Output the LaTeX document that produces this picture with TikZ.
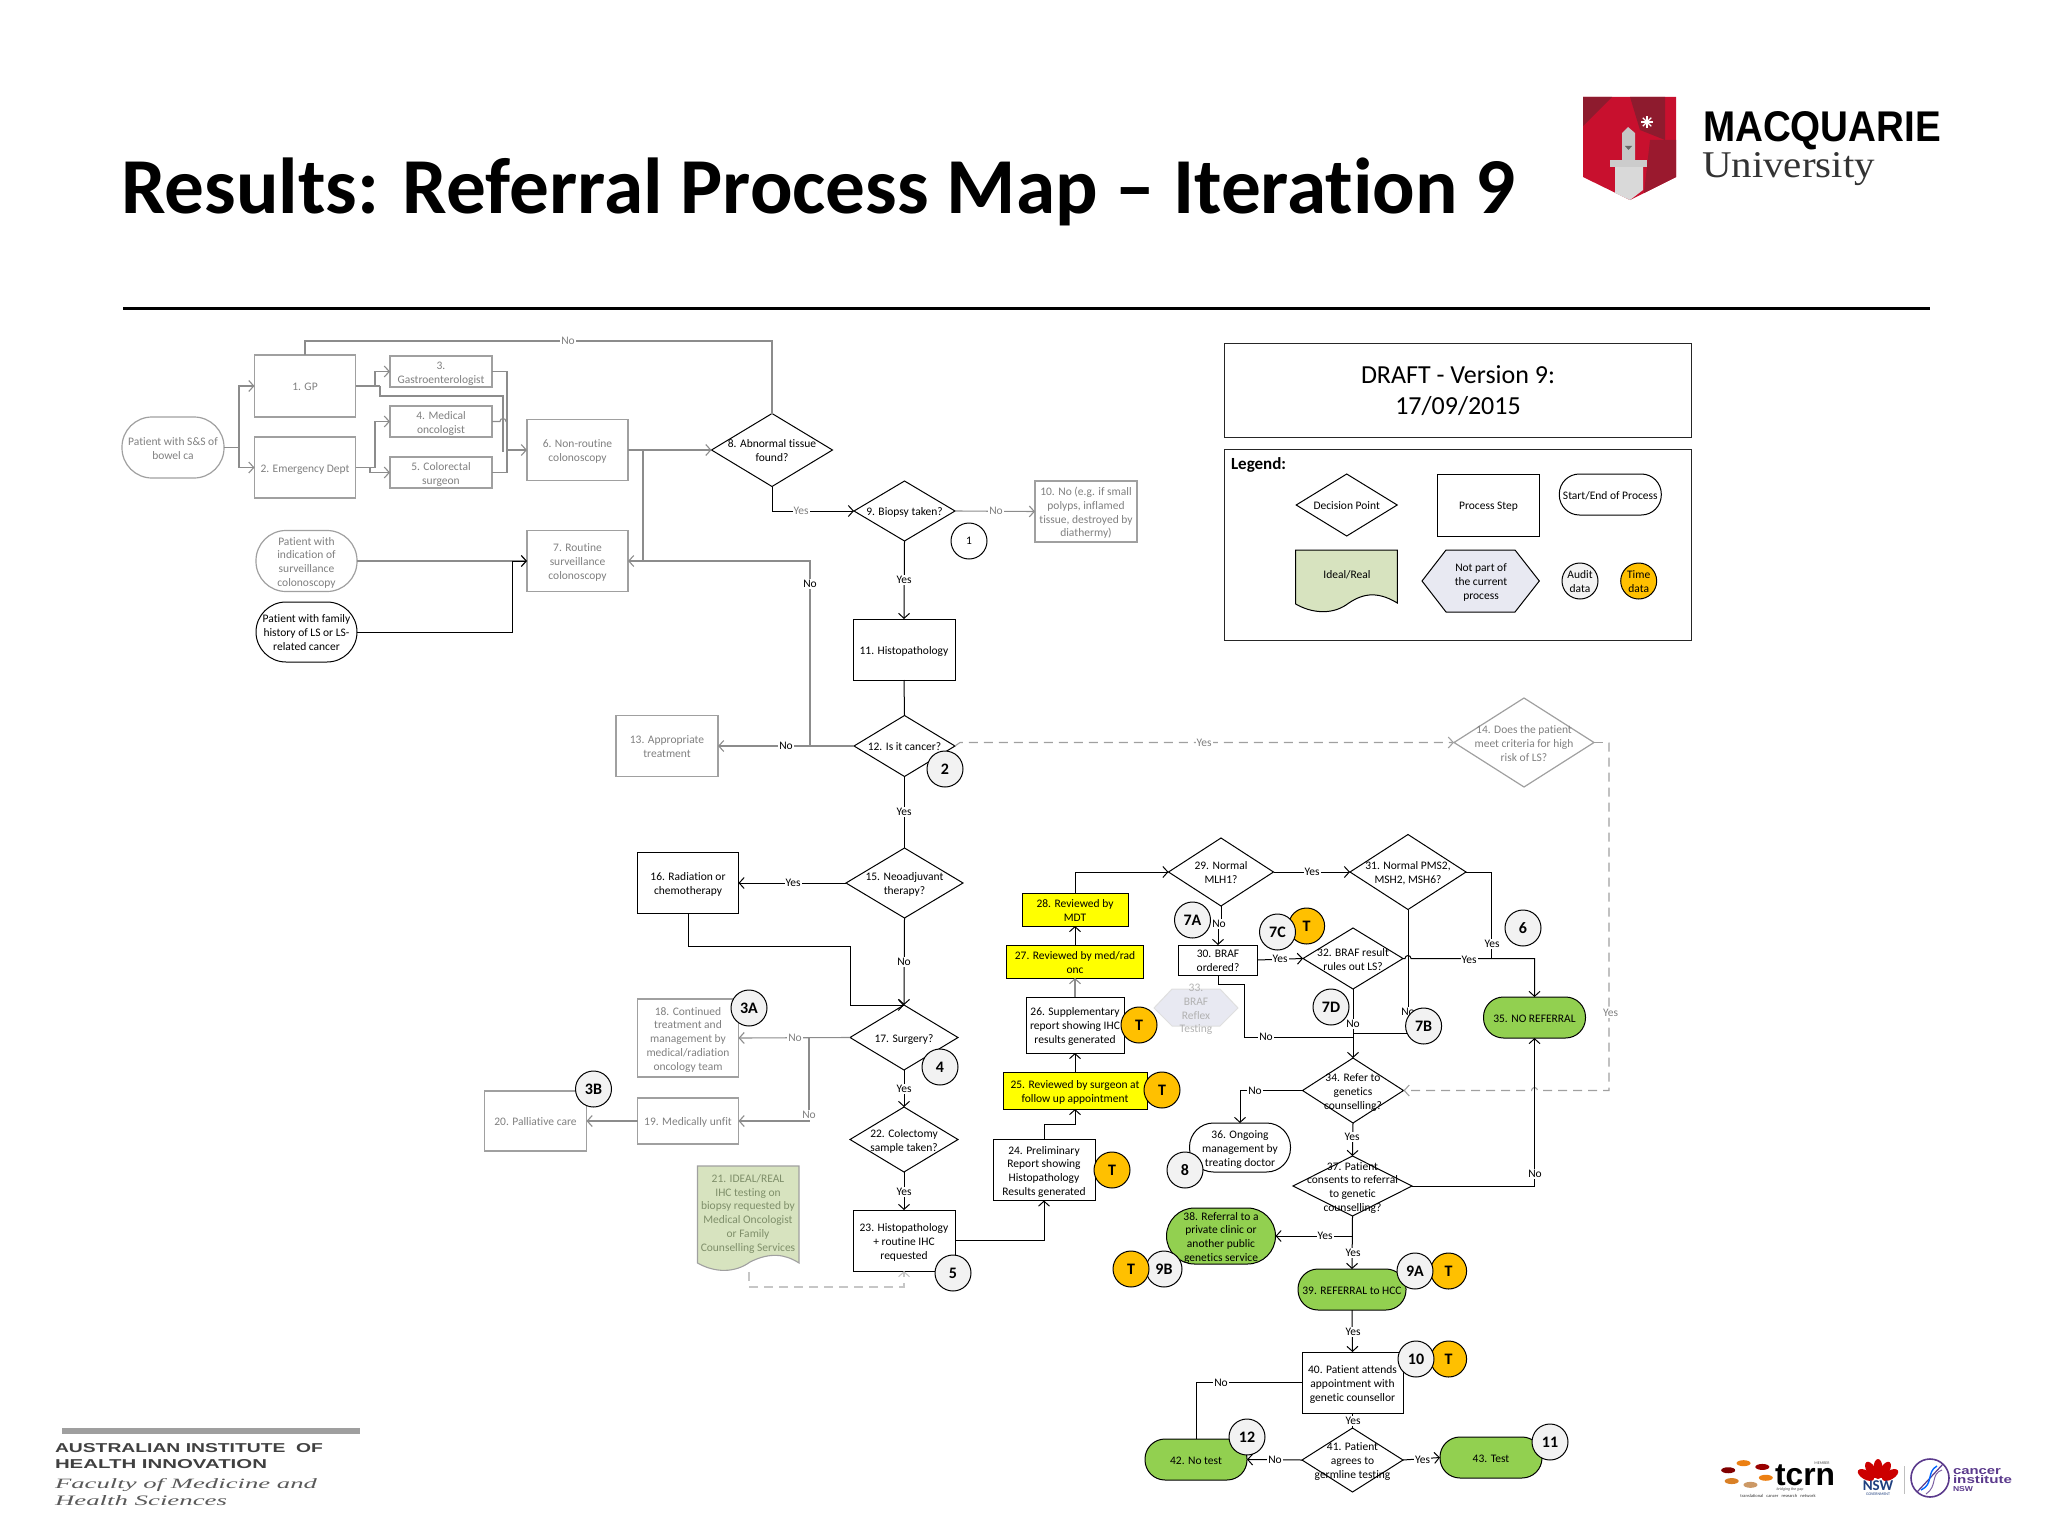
\documentclass[tikz,border=0pt]{standalone}
\usepackage{fontspec}
\setmainfont{Carlito}[Ligatures={TeX,NoCommon}]
\newfontfamily\lsans{Liberation Sans}
\newfontfamily\lserif{Liberation Serif}
\usetikzlibrary{shapes.geometric,arrows.meta}
\definecolor{gbord}{HTML}{A0A0A0}
\definecolor{gtext}{HTML}{808080}
\definecolor{gline}{HTML}{8C8C8C}
\definecolor{dashc}{HTML}{A0A0A0}
\definecolor{yel}{HTML}{FFFF00}
\definecolor{grn}{HTML}{92D050}
\definecolor{amber}{HTML}{FFC000}
\definecolor{badge}{HTML}{F2F2F2}
\definecolor{sage}{HTML}{D7E3BF}
\definecolor{sagetext}{HTML}{7F8F6A}
\definecolor{hexfill}{HTML}{E8E9F2}
\definecolor{mqred}{HTML}{C8102E}
\definecolor{mqdark}{HTML}{8E1B2E}
\definecolor{purp}{HTML}{5B3A8C}
\definecolor{nswblue}{HTML}{1F3F7F}
\newcommand{\lab}{\fontsize{11.5}{13.8}\selectfont}
\newcommand{\zb}[1]{\smash{\raisebox{-5pt}{\makebox[0pt]{\begin{tabular}[c]{@{}c@{}}#1\end{tabular}}}}}
\tikzset{
  every node/.style={inner sep=0pt,outer sep=0pt,font=\lab},
  pbox/.style 2 args={rectangle,draw=black,line width=1pt,fill=white,minimum width=#1pt,minimum height=#2pt},
  dec/.style 2 args={diamond,draw=black,line width=1pt,fill=white,minimum width=#1pt,minimum height=#2pt},
  term/.style n args={3}{rectangle,rounded corners=#3pt,draw=black,line width=1pt,fill=white,minimum width=#1pt,minimum height=#2pt},
  offp/.style={draw=gbord,text=gtext,line width=1.2pt},
  yelb/.style={fill=yel},
  grnb/.style={fill=grn},
  conn/.style={draw=black,line width=1pt},
  arr/.style={conn,-{Straight Barb[length=5pt,width=11pt]}},
  gconn/.style={draw=gline,line width=1.1pt},
  garr/.style={gconn,-{Straight Barb[length=5pt,width=11pt]}},
  dconn/.style={draw=dashc,line width=1.1pt,dash pattern=on 9pt off 6pt},
  darr/.style={dconn,-{Straight Barb[length=5pt,width=11pt]}},
  yn/.style={fill=white,inner sep=1pt,font=\lab},
  gyn/.style={yn,text=gtext},
  audit/.style={circle,draw=black,line width=1pt,fill=badge,minimum size=36pt,font=\fontsize{16}{16}\selectfont\bfseries},
  timeb/.style={audit,fill=amber},
}
\begin{document}
\begin{tikzpicture}[x=1pt,y=-1pt]
\useasboundingbox (0,0) rectangle (2048,1536);
% title
\node[anchor=base west,font=\fontsize{79.3}{84}\selectfont\bfseries] (title) at (121,213) {Results: Referral Process Map – Iteration 9};
\draw[black,line width=2.5pt] (123,308.5) -- (1930,308.5);

% Macquarie logo
\fill[mqred] (1583,97) -- (1676,97) -- (1676,177) -- (1630,200) -- (1583,177) -- cycle;
\fill[mqdark] (1583,97) -- (1612,97) -- (1583,126) -- cycle;
\fill[mqdark] (1630,97) -- (1665,97) -- (1665,140) -- (1640,130) -- cycle;
\fill[mqdark!80!mqred] (1650,140) -- (1676,140) -- (1676,177) -- (1644,193) -- cycle;
\fill[gray!30] (1615,167) -- (1643,167) -- (1643,190) -- (1630,200) -- (1615,193) -- cycle;
\fill[gray!40] (1610,160) -- (1647,160) -- (1647,167) -- (1610,167) -- cycle;
\fill[gray!45] (1622,160) -- (1622,133) -- (1628,127) -- (1635,133) -- (1635,160) -- cycle;
\fill[black!60] (1625,146) -- (1632,146) -- (1628.5,150) -- cycle;
\fill[white] (1647,122) circle (2pt);
\foreach \a in {0,45,...,315}{\draw[white,line width=1.2pt] (1647,122) -- ++(\a:6);}
\node[anchor=base west] (mq) at (1703,142) {\resizebox{238pt}{30pt}{\lsans\bfseries MACQUARIE}};
\node[anchor=base west,text=black!80] (uni) at (1702,177) {\resizebox{173pt}{25pt}{\lserif University}};

% bottom-left logo
\fill[gray!75] (62,1428) rectangle (360,1434);
\node[anchor=west,text=black!75] (a1) at (55,1448) {\resizebox{268pt}{9pt}{\lsans\bfseries AUSTRALIAN INSTITUTE\ \ OF}};
\node[anchor=west,text=black!75] (a2) at (55,1464) {\resizebox{212pt}{9pt}{\lsans\bfseries HEALTH INNOVATION}};
\node[anchor=base west,text=black!65] (a3) at (55,1488) {\resizebox{262pt}{10pt}{\lserif\itshape Faculty of Medicine and}};
\node[anchor=base west,text=black!65] (a4) at (55,1505.5) {\resizebox{172pt}{10pt}{\lserif\itshape Health Sciences}};

% tcrn logo
\foreach \a/\c in {20/orange!70!brown,80/brown!80,140/brown!60!orange,200/red!50!black,260/orange!70!brown,320/red!60!black}{
  \fill[\c] (1747,1474) ++(\a:20 and 11) ellipse[x radius=7,y radius=3];
}
\node[anchor=base west] (tc) at (1775,1485) {\resizebox{60pt}{!}{\lsans\bfseries tcrn}};
\node[text=black!70,font=\fontsize{4}{4}\selectfont] (mem) at (1822,1463) {MEMBER};
\node[text=black!70,font=\fontsize{4}{4}\selectfont\itshape] (gap) at (1790,1489) {bridging the gap};
\node[text=black!80,font=\fontsize{4.5}{5}\selectfont] (net) at (1778,1496) {translational\ \ \ cancer\ \ \ research\ \ \ network};
% NSW logo
\foreach \a in {-60,-30,0,30,60}{\fill[red!80!black,rotate around={\a:(1878,1482)}] (1878,1468) ellipse[x radius=4.5,y radius=9];}
\fill[red!80!black] (1878,1474) circle (5);
\node[text=nswblue,font=\fontsize{15}{15}\selectfont\bfseries] (nsw) at (1878,1486) {NSW};
\node[text=nswblue,font=\fontsize{4}{4}\selectfont] (gov) at (1878,1494) {GOVERNMENT};
\draw[gray!50,line width=.6pt] (1904,1466) -- (1904,1494);
\draw[purp,line width=1.6pt] (1930,1478) circle (19);
\draw[purp,line width=1.2pt] (1917,1492) -- (1943,1464);
\draw[blue!60!cyan,line width=1.4pt] (1921,1490) .. controls (1934,1484) and (1926,1472) .. (1937,1466);
\draw[purp!80,line width=1pt] (1926,1494) .. controls (1938,1486) and (1930,1474) .. (1942,1470);
\node[anchor=base west,text=purp] (ci1) at (1953,1474) {\resizebox{48pt}{6pt}{\lsans\bfseries cancer}};
\node[anchor=base west,text=purp] (ci2) at (1953,1483.5) {\resizebox{59pt}{8pt}{\lsans\bfseries institute}};
\node[anchor=base west,text=purp] (ci3) at (1953,1491) {\resizebox{20pt}{5pt}{\lsans\bfseries NSW}};

% draft and legend boxes
\node[pbox={467}{94},draw=black!85] (draftb) at (1458.2,390) {};
\node[font=\fontsize{26}{31}\selectfont,align=center] (draftt) at (1458,391) {DRAFT - Version 9:\\17/09/2015};
\node[pbox={467}{191},draw=black!85] (legb) at (1458.2,544.5) {};
\node[anchor=west,font=\fontsize{17}{18}\selectfont\bfseries] (legt) at (1231,465) {Legend:};
\node[dec={101}{62}] (ldec) at (1346.7,505) {\zb{Decision Point}};
\node[pbox={101.6}{62}] (lstep) at (1488.5,505) {\zb{Process Step}};
\node[term={102}{41}{20}] (lterm) at (1610.3,494.5) {\zb{Start/End of Process}};
\draw[black,line width=1pt,fill=sage] (1295.7,550) -- (1397.3,550) -- (1397.3,603) .. controls (1376,590) and (1361,594) .. (1346,605) .. controls (1331,615) and (1311,613) .. (1295.7,604) -- cycle;
\node (lideal) at (1347,573.5) {\zb{Ideal/Real}};
\draw[black,line width=1pt,fill=hexfill] (1422,581) -- (1446,550) -- (1515,550) -- (1539.3,581) -- (1515,612) -- (1446,612) -- cycle;
\node (lhex) at (1481,581) {\zb{Not part of\\the current\\process}};
\node[circle,draw=black,line width=1pt,fill=badge,minimum size=36pt] (laud) at (1580,581) {\zb{Audit\\data}};
\node[circle,draw=black,line width=1pt,fill=amber,minimum size=36pt] (ltim) at (1638.7,581) {\zb{Time\\data}};

% nodes - left part
\node[term={102}{61}{30},offp] (start) at (173,447.5) {\zb{Patient with S\&S of\\bowel ca}};
\node[pbox={101}{62},offp] (gp) at (305,386) {\zb{1. GP}};
\node[pbox={101}{61},offp] (ed) at (305,467.5) {\zb{2. Emergency Dept}};
\node[pbox={102}{31},offp] (n3) at (441,371.5) {\zb{3.\\Gastroenterologist}};
\node[pbox={102}{31},offp] (n4) at (441,421.5) {\zb{4. Medical\\oncologist}};
\node[pbox={102}{31},offp] (n5) at (441,472.5) {\zb{5. Colorectal\\surgeon}};
\node[pbox={101}{61},offp] (n6) at (577.5,450) {\zb{6. Non-routine\\colonoscopy}};
\node[pbox={101}{61},offp] (n7) at (577.5,561) {\zb{7. Routine\\surveillance\\colonoscopy}};
\node[term={101}{61}{30},offp] (indic) at (306.5,561) {\zb{Patient with\\indication of\\surveillance\\colonoscopy}};
\node[term={101}{60}{30}] (fam) at (306.5,632) {\zb{Patient with family\\history of LS or LS-\\related cancer}};
\node[dec={121}{73}] (n8) at (772,450) {\zb{8. Abnormal tissue\\found?}};
\node[dec={101}{60}] (n9) at (904.5,511) {\zb{9. Biopsy taken?}};
\node[pbox={102}{61},offp] (n10) at (1086,511.5) {\zb{10. No (e.g. if small\\polyps, inflamed\\tissue, destroyed by\\diathermy)}};
\node[pbox={102}{61}] (n11) at (904,649.5) {\zb{11. Histopathology}};
\node[dec={101}{61}] (n12) at (904.5,746) {\zb{12. Is it cancer?}};
\node[pbox={102}{61},offp] (n13) at (667,746) {\zb{13. Appropriate\\treatment}};
\node[dec={140}{89},offp,fill=none] (n14) at (1524,742.5) {\zb{14. Does the patient\\meet criteria for high\\risk of LS?}};
\node[dec={117}{70}] (n15) at (904.5,883) {\zb{15. Neoadjuvant\\therapy?}};
\node[pbox={101}{61}] (n16) at (688,883) {\zb{16. Radiation or\\chemotherapy}};
\node[dec={108}{65}] (n17) at (904,1037.5) {\zb{17. Surgery?}};
\node[pbox={101}{78},offp] (n18) at (688,1038) {\zb{18. Continued\\treatment and\\management by\\medical/radiation\\oncology team}};
\node[pbox={101}{46},offp] (n19) at (688,1121) {\zb{19. Medically unfit}};
\node[pbox={102}{60},offp] (n20) at (535.5,1121) {\zb{20. Palliative care}};
\node[dec={108}{65}] (n22) at (904,1139.5) {\zb{22. Colectomy\\sample taken?}};
\node[pbox={102}{61}] (n23) at (904,1240.5) {\zb{23. Histopathology\\+ routine IHC\\requested}};
\draw[gbord,line width=1.1pt,fill=sage] (697.5,1166) -- (799,1166) -- (799,1263) .. controls (785,1254) and (770,1252) .. (750,1262) .. controls (735,1273) and (715,1273) .. (697.5,1263) -- cycle;
\node[text=sagetext] (n21) at (748,1212) {\zb{21. IDEAL/REAL\\IHC testing on\\biopsy requested by\\Medical Oncologist\\or Family\\Counselling Services}};
\coordinate (d21b) at (749,1272);
\node[pbox={102}{61}] (n24) at (1044,1170) {\zb{24. Preliminary\\Report showing\\Histopathology\\Results generated}};
\node[pbox={144}{37},yelb] (n25) at (1075,1090.5) {\zb{25. Reviewed by surgeon at\\follow up appointment}};
\node[pbox={98}{56}] (n26) at (1075,1025) {\zb{26. Supplementary\\report showing IHC\\results generated}};
\node[pbox={137.5}{33},yelb] (n27) at (1075,961.5) {\zb{27. Reviewed by med/rad\\onc}};
\node[pbox={106}{33},yelb] (n28) at (1075,909.5) {\zb{28. Reviewed by\\MDT}};
\node[dec={105}{68}] (n29) at (1221,872) {\zb{29. Normal\\MLH1?}};
\node[pbox={78.5}{30}] (n30) at (1218,960) {\zb{30. BRAF\\ordered?}};
\node[dec={116}{75}] (n31) at (1408,872) {\zb{31. Normal PMS2,\\MSH2, MSH6?}};
\node[dec={100}{61}] (n32) at (1353,958.5) {\zb{32. BRAF result\\rules out LS?}};
\draw[gray!25,line width=1pt,fill=hexfill] (1154,1008) -- (1172,989) -- (1220,989) -- (1238,1008) -- (1220,1026) -- (1172,1026) -- cycle;
\node[text=gray!60] (n33) at (1196,1007.5) {\zb{33.\\BRAF\\Reflex\\Testing}};
\node[dec={101}{65}] (n34) at (1353,1090.5) {\zb{34. Refer to\\genetics\\counselling?}};
\node[term={102}{41}{20},grnb] (n35) at (1534.5,1017.5) {\zb{35. NO REFERRAL}};
\node[term={101}{49}{24}] (n36) at (1240,1147.5) {\zb{36. Ongoing\\management by\\treating doctor}};
\node[dec={119}{60},fill=none] (n37) at (1352.5,1186) {\zb{37. Patient\\consents to referral\\to genetic\\counselling?}};
\node[term={109}{56}{28},grnb] (n38) at (1221,1236) {\zb{38. Referral to a\\private clinic or\\another public\\genetics service}};
\node[term={108}{41}{20},grnb] (n39) at (1352,1289.5) {\zb{39. REFERRAL to HCC}};
\node[pbox={101}{61}] (n40) at (1352.5,1382.5) {\zb{40. Patient attends\\appointment with\\genetic counsellor}};
\node[dec={101}{64},fill=none] (n41) at (1352.5,1460) {\zb{41. Patient\\agrees to\\germline testing}};
\node[term={102}{41}{20},grnb] (n42) at (1196,1459.5) {\zb{42. No test}};
\node[term={102}{41}{20},grnb] (n43) at (1491,1457.5) {\zb{43. Test}};

% junctions
\coordinate (j1) at (239,447.5);
\coordinate (j2) at (375,386);
\coordinate (j3) at (380,386);
\coordinate (j3b) at (380,396);
\coordinate (j3c) at (503,396);
\coordinate (j3d) at (503,452);
\coordinate (j4) at (507,450);
\coordinate (h4a) at (500,421.5);
\coordinate (j4b) at (507,421.5);
\coordinate (j5) at (375,467.5);
\coordinate (j6) at (370,467.5);
\coordinate (j7) at (643,450);
\coordinate (j7b) at (643,561);
\coordinate (j8) at (810,746);
\coordinate (j9) at (772,341);
\coordinate (j10) at (512,561);
\coordinate (j15a) at (688,946);
\coordinate (j15b) at (850,946);
\coordinate (j15c) at (850,1005);
\coordinate (j11) at (809,1037.5);
\coordinate (j21) at (749,1287);
\coordinate (j24) at (1044,1124);
\coordinate (j29) at (1221,920);
\coordinate (j30a) at (1218,984);
\coordinate (j30b) at (1244,984);
\coordinate (j30c) at (1244,1037);
\coordinate (j30d) at (1353,1037);
\coordinate (j31a) at (1491,958.5);
\coordinate (j31b) at (1408,1033);
\coordinate (j31c) at (1353,1033);
\coordinate (h32a) at (1405,958.5);
\coordinate (j32) at (1534.5,958.5);
\coordinate (j13) at (1352.5,1236);
\coordinate (j14) at (960,742.5);
\coordinate (j14b) at (1609,742.5);
\coordinate (j14c) at (1609,1090.5);
\coordinate (h14) at (1537.5,1090.5);

% gray connectors
\draw[gconn] (start.east) -- (j1);
\draw[garr] (j1) |- (gp.west);
\draw[garr] (j1) |- (ed.west);
\draw[gconn] (gp.east) -- (j3);
\draw[garr] (j2) |- (n3.west);
\draw[gconn] (j3) -- (j3b) -- (j3c) -- (j3d);
\draw[gconn] (n3.east) -| (j4);
\draw[gconn] (n5.east) -| (j4);
\draw[garr] (j4) -- (n6.west);
\draw[gconn] (n4.east) -- (h4a) arc[start angle=180,end angle=360,radius=3] -- (j4b);
\draw[gconn] (ed.east) -- (j5);
\draw[garr] (j5) |- (n4.west);
\draw[garr] (j6) |- (n5.west);
\draw[garr] (n6.east) -- (n8.west);
\draw[gconn] (j7) -- (j7b);
\draw[garr] (j8) |- (n7.east);
\draw[garr] (n12.west) -- (n13.east);
\draw[gconn] (n8.north) -- (j9) -| (gp.north);
\draw[garr] (indic.east) -- (n7.west);
\draw[garr] (n9.east) -- (n10.west);
\draw[garr] (n17.west) -- (n18.east);
\draw[garr] (j11) |- (n19.east);
\draw[garr] (n19.west) -- (n20.east);
\draw[garr] (n26.north) -- (n27.south);
% dashed
\draw[darr] (n12.east) -- (j14) -- (n14.west);
\draw[dconn] (n14.east) -- (j14b);
\draw[darr] (j14b) -- (j14c) -- (h14) arc[start angle=0,end angle=-180,radius=3] -- (n34.east);
\draw[darr,draw=gray!45] (d21b) -- (j21) -| (n23.south);
% black connectors
\draw[arr] (fam.east) -| (j10) -- (n7.west);
\draw[arr] (n8.south) |- (n9.west);
\draw[arr] (n9.south) -- (n11.north);
\draw[conn] (n11.south) -- (n12.north);
\draw[conn] (n12.south) -- (n15.north);
\draw[arr] (n15.west) -- (n16.east);
\draw[arr] (n15.south) -- (n17.north);
\draw[arr] (n16.south) -- (j15a) -- (j15b) -- (j15c) -- (n17.north);
\draw[arr] (n17.south) -- (n22.north);
\draw[arr] (n22.south) -- (n23.north);
\draw[arr] (n23.east) -| (n24.south);
\draw[arr] (n24.north) -- (j24) -| (n25.south);
\draw[arr] (n25.north) -- (n26.south);
\draw[arr] (n27.north) -- (n28.south);
\draw[arr] (n28.north) |- (n29.west);
\draw[arr] (n29.east) -- (n31.west);
\draw[arr] (n29.south) -- (j29) -| (n30.north);
\draw[arr] (n30.east) -- (n32.west);
\draw[conn] (n30.south) -- (j30a) -- (j30b) -- (j30c) -- (j30d);
\draw[conn] (n31.east) -| (j31a);
\draw[conn] (n31.south) -- (j31b) -- (j31c);
\draw[arr] (n32.east) -- (h32a) arc[start angle=180,end angle=360,radius=3] -- (j32) -- (n35.north);
\draw[arr] (n32.south) -- (n34.north);
\draw[arr] (n34.west) -| (n36.north);
\draw[arr] (n34.south) -- (n37.north);
\draw[arr] (n37.east) -| (n35.south);
\draw[arr] (n37.south) -- (n39.north);
\draw[arr] (j13) -- (n38.east);
\draw[arr] (n39.south) -- (n40.north);
\draw[conn] (n40.west) -| (n42.north);
\draw[conn] (n40.south) -- (n41.north);
\draw[arr] (n41.west) -- (n42.east);
\draw[arr] (n41.east) -- (n43.west);

% connector labels
\node[gyn] (l1) at (568,341) {No};
\node[gyn] (l2) at (801,511) {Yes};
\node[gyn] (l3) at (996,511) {No};
\node[yn] (l4) at (904,580) {Yes};
\node[yn] (l5) at (810,584) {No};
\node[yn] (l6) at (786,746) {No};
\node[gyn] (l7) at (1204,743) {Yes};
\node[yn] (l8) at (904,812) {Yes};
\node[yn] (l9) at (793,883) {Yes};
\node[yn] (l10) at (904,962) {No};
\node[gyn] (l11) at (795,1038) {No};
\node[gyn] (l12) at (809,1115) {No};
\node[yn] (l13) at (904,1089) {Yes};
\node[yn] (l14) at (904,1192) {Yes};
\node[yn] (l15) at (1312,872) {Yes};
\node[yn] (l16) at (1219,924) {No};
\node[yn] (l17) at (1280,959) {Yes};
\node[yn] (l18) at (1492,944) {Yes};
\node[yn] (l19) at (1469,960) {Yes};
\node[yn] (l20) at (1408,1012) {No};
\node[yn] (l21) at (1353,1024) {No};
\node[yn] (l22) at (1266,1037) {No};
\node[gyn] (l23) at (1610.5,1013) {Yes};
\node[yn] (l24) at (1255,1091) {No};
\node[yn] (l25) at (1352,1137) {Yes};
\node[yn] (l26) at (1535,1174) {No};
\node[yn] (l27) at (1325,1236) {Yes};
\node[yn] (l28) at (1353,1253) {Yes};
\node[yn] (l29) at (1353,1332) {Yes};
\node[yn] (l30) at (1221,1383) {No};
\node[yn] (l31) at (1353,1421) {Yes};
\node[yn] (l32) at (1275,1460) {No};
\node[yn] (l33) at (1422.5,1460) {Yes};

% badges
\node[audit,fill=white,font=\lab] (b1) at (969,541) {1};
\node[audit] (b2) at (945,769) {2};
\node[audit] (b3a) at (749,1008) {3A};
\node[audit] (b3b) at (593.5,1089) {3B};
\node[audit] (b4) at (940,1067) {4};
\node[audit] (b5) at (953,1273) {5};
\node[timeb] (t24) at (1112,1170) {T};
\node[timeb] (t25) at (1162,1090) {T};
\node[timeb] (t26) at (1139,1025) {T};
\node[audit] (b7a) at (1192.5,920) {7A};
\node[timeb] (t7c) at (1306.6,926) {T};
\node[audit] (b7c) at (1277.5,932) {7C};
\node[audit] (b6) at (1523,928) {6};
\node[audit] (b7d) at (1331,1007) {7D};
\node[audit] (b7b) at (1423.6,1026) {7B};
\node[audit] (b8) at (1185,1170) {8};
\node[audit] (b9b) at (1164,1269) {9B};
\node[timeb] (t9b) at (1131,1269) {T};
\node[timeb] (t9a) at (1448.6,1271) {T};
\node[audit] (b9a) at (1415,1271) {9A};
\node[timeb] (t10) at (1448.6,1359) {T};
\node[audit] (b10) at (1416,1359) {10};
\node[audit] (b12) at (1247,1437) {12};
\node[audit] (b11) at (1550,1442) {11};
\end{tikzpicture}
\end{document}
